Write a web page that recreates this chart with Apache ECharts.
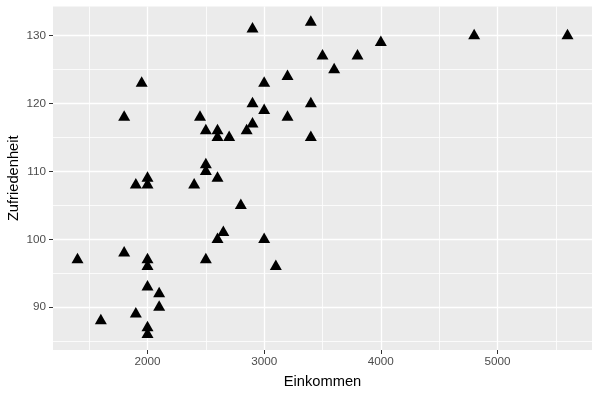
<!DOCTYPE html>
<html><head><meta charset="utf-8">
<script src="https://cdn.jsdelivr.net/npm/echarts@6/dist/echarts.min.js"></script>
<style>html,body{margin:0;padding:0;background:#fff}#c{width:600px;height:395px}</style>
</head><body><div id="c"></div>
<script>
const einkommen = [1400, 1600, 1800, 1800, 1900, 1900, 1950, 2000, 2000, 2000, 2000, 2000, 2000, 2000,
  2100, 2100, 2400, 2450, 2500, 2500, 2500, 2500, 2600, 2600, 2600, 2600, 2650, 2700, 2800, 2850,
  2900, 2900, 2900, 3000, 3000, 3000, 3100, 3200, 3200, 3400, 3400, 3400, 3500, 3600, 3800, 4000, 4800, 5600];
const zufriedenheit = [97, 88, 118, 98, 108, 89, 123, 109, 108, 97, 96, 93, 87, 86,
  92, 90, 108, 118, 116, 111, 110, 97, 116, 115, 109, 100, 101, 115, 105, 116,
  131, 120, 117, 123, 119, 100, 96, 124, 118, 132, 120, 115, 127, 125, 127, 129, 130, 130];
const xTicks = [2000, 3000, 4000, 5000];
const xMinor = [1500, 2500, 3500, 4500, 5500];
const yTicks = [90, 100, 110, 120, 130];
const yMinor = [85, 95, 105, 115, 125];
const xRange = [1190, 5810];
const yRange = [83.7, 134.3];

const points = einkommen.map((x, i) => [x, zufriedenheit[i]]);
const font = "'Liberation Sans', Arial, sans-serif";

const vLines = (arr) => arr.map(v => ({ xAxis: v }));
const hLines = (arr) => arr.map(v => ({ yAxis: v }));

const chart = echarts.init(document.getElementById('c'), null, { renderer: 'canvas' });
chart.setOption({
  animation: false,
  grid: { left: 53, right: 8, top: 6.5, bottom: 45, show: true, backgroundColor: '#EBEBEB', borderWidth: 0,
          containLabel: false, outerBoundsMode: 'none' },
  xAxis: {
    type: 'value', min: xRange[0], max: xRange[1],
    name: 'Einkommen', nameLocation: 'middle', nameGap: 24, nameMoveOverlap: false,
    nameTextStyle: { color: '#000', fontSize: 14.7, fontFamily: font },
    axisLine: { show: false },
    axisTick: { show: true, length: 4, customValues: xTicks, lineStyle: { color: '#333', width: 1 } },
    axisLabel: { customValues: xTicks, formatter: v => String(v), color: '#4D4D4D', fontSize: 11.7, fontFamily: font, margin: 6 },
    splitLine: { show: false }
  },
  yAxis: {
    type: 'value', min: yRange[0], max: yRange[1],
    name: 'Zufriedenheit', nameLocation: 'middle', nameGap: 32, nameMoveOverlap: false,
    nameTextStyle: { color: '#000', fontSize: 14.7, fontFamily: font },
    axisLine: { show: false },
    axisTick: { show: true, length: 4, customValues: yTicks, lineStyle: { color: '#333', width: 1 } },
    axisLabel: { customValues: yTicks, formatter: v => String(v), color: '#4D4D4D', fontSize: 11.7, fontFamily: font, margin: 7 },
    splitLine: { show: false }
  },
  series: [
    {
      type: 'scatter', data: [], silent: true, z: 1,
      markLine: {
        z: 1, silent: true, symbol: ['none', 'none'], label: { show: false },
        lineStyle: { color: '#FFFFFF', width: 0.8, type: 'solid' },
        emphasis: { disabled: true },
        data: vLines(xMinor).concat(hLines(yMinor))
      }
    },
    {
      type: 'scatter', data: [], silent: true, z: 1,
      markLine: {
        z: 1, silent: true, symbol: ['none', 'none'], label: { show: false },
        lineStyle: { color: '#FFFFFF', width: 1.3, type: 'solid' },
        emphasis: { disabled: true },
        data: vLines(xTicks).concat(hLines(yTicks))
      }
    },
    {
      type: 'scatter', z: 5, data: points,
      symbol: 'triangle', symbolSize: [12, 10.5], symbolOffset: [0, -1.7],
      itemStyle: { color: '#000000', opacity: 1 },
      emphasis: { disabled: true }
    }
  ]
});
</script>
</body></html>
